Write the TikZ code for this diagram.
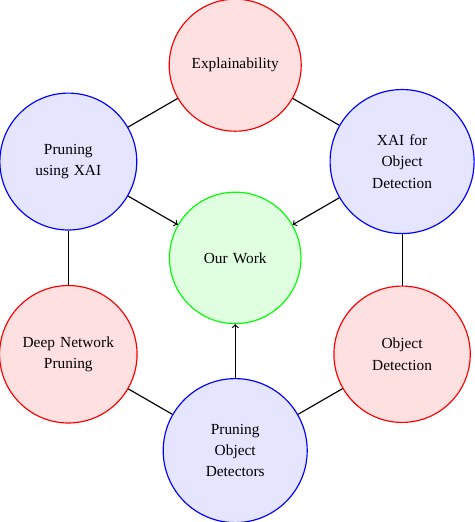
\documentclass[tikz,border=0pt]{standalone}
\usepackage{fontspec}
\setmainfont{Liberation Serif}
\begin{document}
\begin{tikzpicture}[
    topic/.style={circle, draw, thick, text width=83pt, align=center,
      inner sep=3.3pt, font=\fontsize{10.6}{14.7}\selectfont},
    redtopic/.style={topic, draw=red, fill=red!12},
    bluetopic/.style={topic, draw=blue, fill=blue!10},
    greentopic/.style={topic, draw=green, fill=green!12},
    link/.style={thick, black}
  ]
  \useasboundingbox (-5.70,-6.40) rectangle (5.79,6.25);
  % centre
  \node[greentopic] (ours) at (0,0) {Our Work};
  % ring of topics
  \node[redtopic] (expl) at (90:4.67) {Explainability};
  \node[bluetopic] (xaiod) at (30:4.67) {XAI for\\Object\\Detection};
  \node[redtopic] (objdet) at (-30:4.67) {Object\\Detection};
  \node[bluetopic] (prunod) at (-90:4.67) {Pruning\\Object\\Detectors};
  \node[redtopic] (dnp) at (210:4.67) {Deep Network\\Pruning};
  \node[bluetopic] (prunxai) at (150:4.67) {Pruning\\using XAI};
  % hexagon
  \draw[link] (expl) -- (xaiod);
  \draw[link] (xaiod) -- (objdet);
  \draw[link] (objdet) -- (prunod);
  \draw[link] (prunod) -- (dnp);
  \draw[link] (dnp) -- (prunxai);
  \draw[link] (prunxai) -- (expl);
  % into our work
  \draw[link, ->] (prunxai) -- (ours);
  \draw[link, ->] (xaiod) -- (ours);
  \draw[link, ->] (prunod) -- (ours);
\end{tikzpicture}
\end{document}
